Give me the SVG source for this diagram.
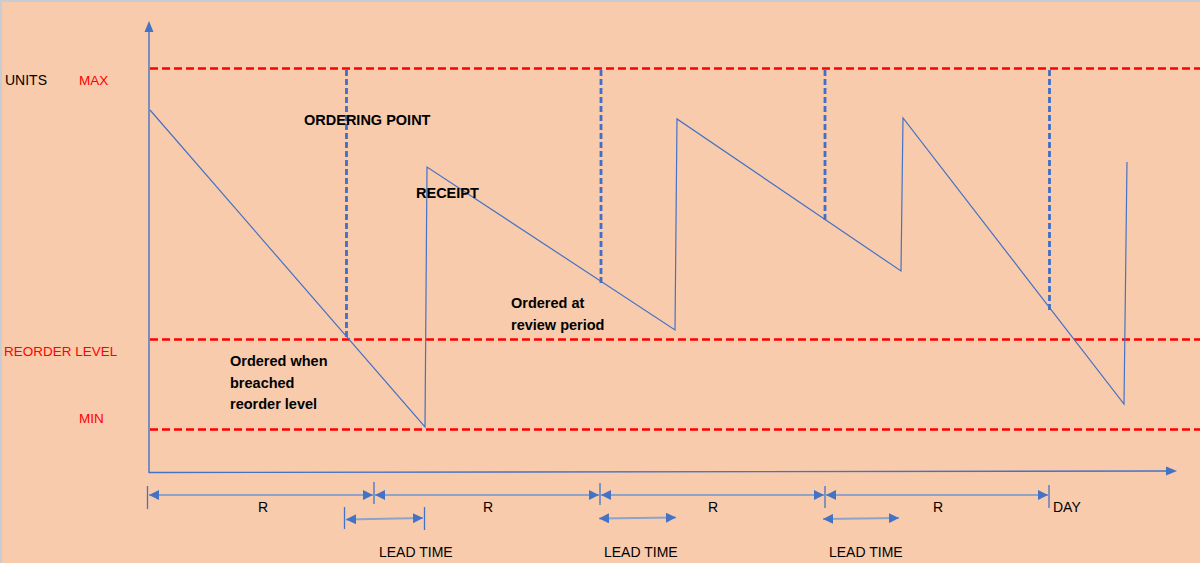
<svg xmlns="http://www.w3.org/2000/svg" width="1200" height="563" viewBox="0 0 1200 563">
<style>
.red{stroke:#FF0000;stroke-width:2.4;stroke-dasharray:8 4;fill:none}
.bd{stroke:#3F6FC6;stroke-width:2.8;stroke-dasharray:6 3;fill:none}
.ax{stroke:#4472C4;stroke-width:1.4;fill:none}
.saw{stroke:#4472C4;stroke-width:1.2;fill:none;stroke-linejoin:miter}
.dim{stroke:#4472C4;stroke-width:1.3;fill:none}
.dimg{stroke:#8EA3C8;stroke-width:2;fill:none}
.t{font-family:"Liberation Sans",Arial,sans-serif;font-size:14px;fill:#000}
.tr{font-family:"Liberation Sans",Arial,sans-serif;font-size:13.5px;fill:#FF0000}
.tb{font-family:"Liberation Sans",Arial,sans-serif;font-size:14.5px;font-weight:bold;fill:#000}
</style>
<defs>
<marker id="ah" viewBox="0 0 10 10" refX="10" refY="5" markerWidth="10" markerHeight="10" markerUnits="userSpaceOnUse" orient="auto-start-reverse">
<path d="M0,0 L10,5 L0,10 Z" fill="#4472C4"/>
</marker>
</defs>
<rect x="0" y="0" width="1200" height="563" fill="#F8CBAD"/>
<path d="M1,563 V1 H1200" stroke="#C9CDD3" stroke-width="2" fill="none"/>

<g id="axes">
<line class="ax" x1="149" y1="473" x2="149" y2="30"/>
<path d="M149,21 L153.5,32 L144.5,32 Z" fill="#4472C4"/>
<line class="ax" x1="149" y1="472.5" x2="1168" y2="471"/>
<path d="M1177,471 L1166,466.5 L1166,475.5 Z" fill="#4472C4"/>
</g>

<g id="levels">
<line class="red" x1="150" y1="68.5" x2="1200" y2="68.5"/>
<line class="red" x1="150" y1="339.5" x2="1200" y2="339.5"/>
<line class="red" x1="150" y1="429.5" x2="1200" y2="429.5"/>
</g>

<g id="labels-left">
<text class="t" x="5" y="85">UNITS</text>
<text class="tr" x="79" y="85">MAX</text>
<text class="tr" x="4" y="356">REORDER LEVEL</text>
<text class="tr" x="79" y="423">MIN</text>
</g>

<g id="ordering-points">
<line class="bd" x1="346.5" y1="70" x2="346.5" y2="338"/>
<line class="bd" x1="601" y1="70" x2="601" y2="285"/>
<line class="bd" x1="825" y1="70" x2="825" y2="223"/>
<line class="bd" x1="1049.5" y1="70" x2="1049.5" y2="310"/>
</g>

<g id="stock-level">
<polyline class="saw" points="150,110 425,427 427,167 675,330 677,119 901,271 903,118 1124,404 1127,162"/>
</g>

<g id="annotations">
<text class="tb" x="304" y="125">ORDERING POINT</text>
<text class="tb" x="416" y="198">RECEIPT</text>
<text class="tb" x="511" y="308">Ordered at</text>
<text class="tb" x="511" y="330">review period</text>
<text class="tb" x="230" y="366">Ordered when</text>
<text class="tb" x="230" y="388">breached</text>
<text class="tb" x="230" y="409">reorder level</text>
</g>

<g id="connectors">
<line class="dim" x1="147.5" y1="486" x2="147.5" y2="509"/>
<line class="dim" x1="374" y1="482" x2="374" y2="504"/>
<line class="dim" x1="600" y1="483" x2="600" y2="505"/>
<line class="dim" x1="825" y1="486" x2="825" y2="508"/>
<line class="dim" x1="1049" y1="485" x2="1049" y2="508"/>
<line class="dimg" x1="149" y1="495" x2="373" y2="495" marker-start="url(#ah)" marker-end="url(#ah)"/>
<line class="dimg" x1="375" y1="495" x2="599" y2="495" marker-start="url(#ah)" marker-end="url(#ah)"/>
<line class="dimg" x1="601" y1="495" x2="824" y2="495" marker-start="url(#ah)" marker-end="url(#ah)"/>
<line class="dimg" x1="826" y1="495" x2="1048" y2="495" marker-start="url(#ah)" marker-end="url(#ah)"/>
<line class="dim" x1="344.5" y1="507" x2="344.5" y2="529"/>
<line class="dim" x1="424.5" y1="507" x2="424.5" y2="530"/>
<line class="dimg" x1="346" y1="519.5" x2="423" y2="518" marker-start="url(#ah)" marker-end="url(#ah)"/>
<line class="dimg" x1="599" y1="518.5" x2="676" y2="517.5" marker-start="url(#ah)" marker-end="url(#ah)"/>
<line class="dimg" x1="823" y1="519" x2="899" y2="518" marker-start="url(#ah)" marker-end="url(#ah)"/>
</g>

<g id="labels-bottom">
<text class="t" x="263" y="512" text-anchor="middle">R</text>
<text class="t" x="488" y="512" text-anchor="middle">R</text>
<text class="t" x="713" y="512" text-anchor="middle">R</text>
<text class="t" x="938" y="512" text-anchor="middle">R</text>
<text class="t" x="1053" y="512">DAY</text>
<text class="t" x="379" y="557">LEAD TIME</text>
<text class="t" x="604" y="557">LEAD TIME</text>
<text class="t" x="829" y="557">LEAD TIME</text>
</g>
</svg>
